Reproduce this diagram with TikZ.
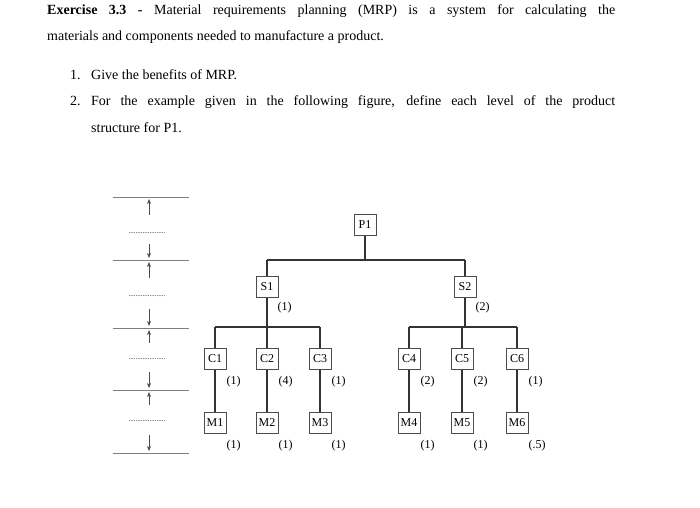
\documentclass[tikz,border=0pt]{standalone}
\usepackage{fontspec}
\setmainfont{Liberation Serif}
\usetikzlibrary{arrows.meta}
\begin{document}
\begin{tikzpicture}[x=1pt,y=-1pt,
  item/.style={draw=black!70,line width=0.8pt,fill=white,minimum width=22pt,minimum height=21pt,inner sep=1pt,font=\fontsize{12}{14}\selectfont},
  lnk/.style={line width=1.8pt,black!80},
  qty/.style={font=\fontsize{12}{14}\selectfont,anchor=west},
  rule/.style={black!50,line width=0.9pt},
  arr/.style={black!70,line width=0.7pt,-{Stealth[length=5pt,width=4pt]}},
  dots/.style={font=\fontsize{7}{8}\selectfont}]
\useasboundingbox (0,0) rectangle (700,507);
\node[anchor=base west,inner sep=0pt,text width=568pt,align=justify,font=\fontsize{14}{26}\selectfont] at (47,14) {\textbf{Exercise 3.3 -} Material requirements planning (MRP) is a system for calculating the\linebreak materials and components needed to manufacture a product.};
\node[anchor=base west,inner sep=0pt,font=\fontsize{14}{14}\selectfont] at (70,79) {1.};
\node[anchor=base west,inner sep=0pt,font=\fontsize{14}{14}\selectfont] at (91,79) {Give the benefits of MRP.};
\node[anchor=base west,inner sep=0pt,font=\fontsize{14}{14}\selectfont] at (70,105) {2.};
\node[anchor=base west,inner sep=0pt,text width=524pt,align=justify,font=\fontsize{14}{27}\selectfont] at (91,105) {For the example given in the following figure, define each level of the product\linebreak structure for P1.};
% ruler
\foreach \y [count=\i] in {197,260,328,390,453}{\draw[rule] (113,\y) -- (189,\y);}
\foreach \y in {233,296,359,421}{\node[dots] (d\y) at (147,\y) {.....................};}
\draw[arr] (149,215) -- (149,199);
\draw[arr] (149,244) -- (149,258); \draw[arr] (149,278) -- (149,262);
\draw[arr] (149,309) -- (149,326); \draw[arr] (149,343) -- (149,330);
\draw[arr] (149,372) -- (149,388); \draw[arr] (149,405) -- (149,392);
\draw[arr] (149,435) -- (149,451);
% tree
\coordinate (b0) at (365,260);
\coordinate (bl) at (267,327);
\coordinate (br) at (465,327);
\draw[lnk] (267,260) -- (465,260);
\draw[lnk] (215,327) -- (320,327);
\draw[lnk] (409,327) -- (517,327);
\node[item] (P1) at (365,225) {P1};
\node[item] (S1) at (267,287) {S1};
\node[item] (S2) at (465,287) {S2};
\draw[lnk] (P1) -- (b0);
\draw[lnk] (S1.north) -- (S1.north|-b0);
\draw[lnk] (S2.north) -- (S2.north|-b0);
\draw[lnk] (S1) -- (bl);
\draw[lnk] (S2) -- (br);
\foreach \c/\m/\x/\qc/\qm in {C1/M1/215/(1)/(1),C2/M2/267/(4)/(1),C3/M3/320/(1)/(1),C4/M4/409/(2)/(1),C5/M5/462/(2)/(1),C6/M6/517/(1)/(.5)}{
  \node[item] (\c) at (\x,359) {\c};
  \node[item] (\m) at (\x,423) {\m};
  \draw[lnk] (\c.north) -- (\c.north|-bl);
  \draw[lnk] (\c) -- (\m);
  \node[qty] at (\x+8,382) {\qc};
  \node[qty] at (\x+8,446) {\qm};
}
\node[qty] at (274,308) {(1)};
\node[qty] at (472,308) {(2)};
\end{tikzpicture}
\end{document}
